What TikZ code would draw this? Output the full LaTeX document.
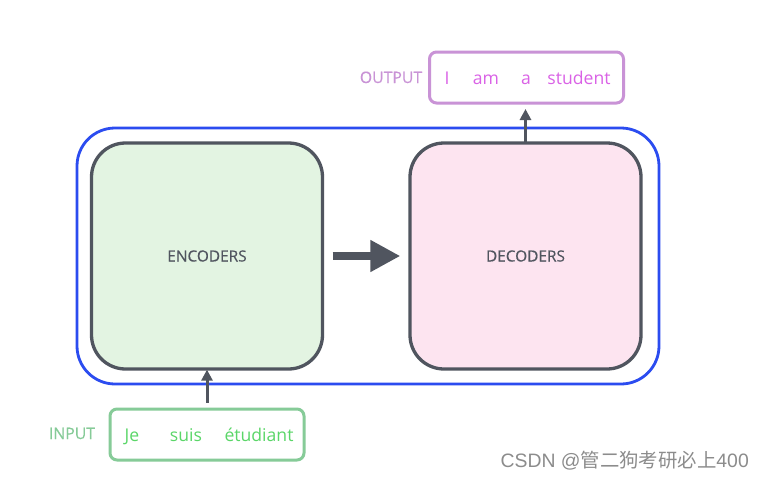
\documentclass[tikz,border=0pt]{standalone}
\usepackage{fontspec}
\setmainfont{Open Sans}
\newfontfamily\cjk{Noto Sans CJK SC}
\newfontfamily\marklatin{Liberation Sans}
\newfontfamily\heavier[FakeBold=0.35]{Open Sans}
\usetikzlibrary{arrows.meta}
\definecolor{slate}{HTML}{50555F}
\definecolor{frameblue}{HTML}{2B4CF0}
\definecolor{encfill}{HTML}{E3F4E2}
\definecolor{decfill}{HTML}{FDE4F0}
\definecolor{ingreen}{HTML}{86CB98}
\definecolor{intext}{HTML}{5AD668}
\definecolor{outpurple}{HTML}{C993D6}
\definecolor{outtext}{HTML}{DA62E6}
\tikzset{
  x=1pt,y=-1pt,
  stack/.style={draw=slate,line width=3.3pt,rounded corners=34pt,minimum width=231pt,minimum height=226pt,inner sep=0pt,text=slate,font=\heavier\fontsize{15.4}{18}\selectfont},
  frame/.style={draw=frameblue,line width=2.8pt,rounded corners=38pt,minimum width=582pt,minimum height=256pt,inner sep=0pt},
  iobox/.style={line width=3pt,rounded corners=7pt,minimum width=194pt,minimum height=51pt,inner sep=0pt},
  word/.style={inner sep=0pt,anchor=base,font=\fontsize{17.6}{20}\selectfont},
  tag/.style={inner sep=0pt,anchor=base,font=\heavier\fontsize{15.8}{18}\selectfont},
  thin arrow/.style={draw=slate,line width=3pt,-{Triangle[length=11pt,width=11pt]}},
  big arrow/.style={draw=slate,line width=8pt,-{Triangle[length=30pt,width=30pt]}},
}
\begin{document}
\begin{tikzpicture}
\useasboundingbox (0,0) rectangle (764,480);
\fill[white] (0,0) rectangle (764,480);
\node[frame] (frame) at (368,256) {};
\node[stack,fill=encfill] (enc) at (207,256) {ENCODERS};
\node[stack,fill=decfill] (dec) at (525.5,256) {DECODERS};
\node[iobox,draw=ingreen] (inbox) at (207,434.5) {};
\node[iobox,draw=outpurple] (outbox) at (526.5,77.5) {};
\node[tag,text=ingreen] (intag) at (72,439) {INPUT};
\node[tag,text=outpurple] (outtag) at (391,83) {OUTPUT};
\node[word,text=intext] (w1) at (132,441) {Je};
\node[word,text=intext] (w2) at (186,441) {suis};
\node[word,text=intext] (w3) at (259,441) {étudiant};
\node[word,text=outtext] (w4) at (447,84) {I};
\node[word,text=outtext] (w5) at (486,84) {am};
\node[word,text=outtext] (w6) at (526,84) {a};
\node[word,text=outtext] (w7) at (579,84) {student};
\draw[big arrow,shorten <=8.5pt,shorten >=8pt] (enc.east) -- (dec.west);
\draw[thin arrow,shorten <=5pt,shorten >=-1pt] (inbox.north) -- (enc.south);
\draw[thin arrow,shorten <=-1pt,shorten >=4.5pt] (dec.north) -- (dec.north |- outbox.south);
\node[inner sep=0pt,anchor=base east,text=black!45,font=\marklatin\fontsize{19.4}{22}\selectfont] (mark) at (749,467) {CSDN @{\cjk 管二狗考研必上}400};
\end{tikzpicture}
\end{document}
